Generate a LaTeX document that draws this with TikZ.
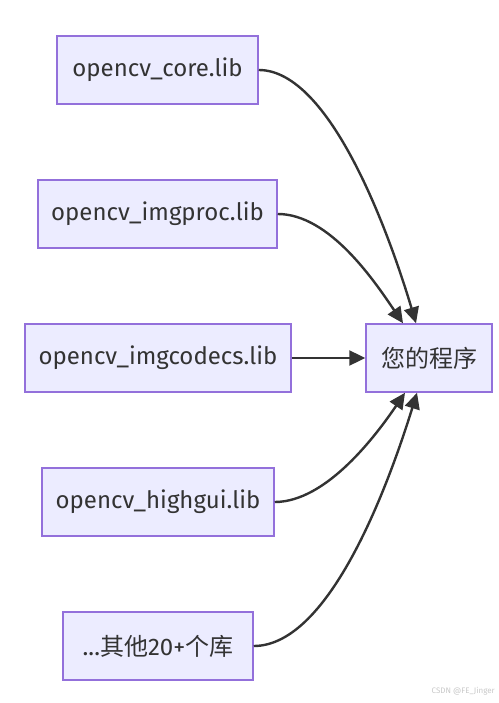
\documentclass[tikz,border=0pt]{standalone}
\usepackage{fontspec}
\setmainfont{Fira Sans}
\newfontfamily\cjk{Noto Sans CJK SC}
\usetikzlibrary{arrows.meta}
\definecolor{boxfill}{HTML}{ECECFF}
\definecolor{boxline}{HTML}{9370DB}
\definecolor{ink}{HTML}{333333}
\definecolor{wm}{HTML}{C8C8C8}
\begin{document}
\begin{tikzpicture}[x=1pt,y=-1pt,
  libbox/.style={draw=boxline,fill=boxfill,line width=1.5pt,inner sep=0pt,
    minimum height=68pt,text=ink,font=\fontsize{24}{28}\selectfont},
  link/.style={draw=ink,line width=2.4pt,-{Triangle[length=16pt,width=15pt]}}]
\useasboundingbox (0,0) rectangle (498,703);
\node[libbox,minimum width=201pt] (core) at (157.5,70) {opencv\_core.lib};
\node[libbox,minimum width=239pt] (imgproc) at (157.5,214) {opencv\_imgproc.lib};
\node[libbox,minimum width=266pt] (imgcodecs) at (158,358) {opencv\_imgcodecs.lib};
\node[libbox,minimum width=232pt] (highgui) at (158,502) {opencv\_highgui.lib};
\node[libbox,minimum width=190pt] (others) at (158,646) {...{\cjk 其他}20+{\cjk 个库}};
\node[libbox,minimum width=126pt] (prog) at (429,358) {\cjk 您的程序};
\coordinate (t1) at ([xshift=-13pt]prog.north);
\coordinate (t2) at ([xshift=-26pt]prog.north);
\coordinate (b1) at ([xshift=-24pt]prog.south);
\coordinate (b2) at ([xshift=-12pt]prog.south);
\draw[link] (core.east) .. controls +(72,0) and (390,236) .. (t1);
\draw[link] (imgproc.east) .. controls +(52,0) and (375,282) .. (t2);
\draw[link] (imgcodecs.east) -- (prog.west);
\draw[link] (highgui.east) .. controls +(52,0) and (377,434) .. (b1);
\draw[link] (others.east) .. controls +(77,0) and (390,480) .. (b2);
\node[text=wm,font=\fontsize{8}{9}\selectfont,anchor=east,inner sep=0pt] (mark) at (495,691) {CSDN @FE\_Jinger};
\end{tikzpicture}
\end{document}
